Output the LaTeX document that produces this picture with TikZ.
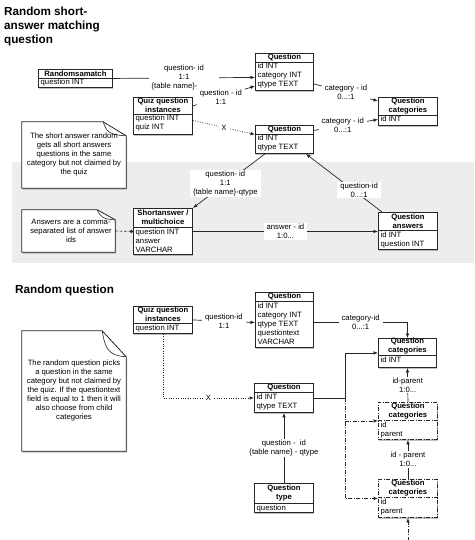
\documentclass[tikz,border=0pt]{standalone}
\usepackage{fontspec}
\setmainfont{Liberation Sans}
\usetikzlibrary{arrows.meta,calc,shadows}
\pgfdeclarelayer{bandlayer}
\pgfdeclarelayer{notelayer}
\pgfsetlayers{bandlayer,notelayer,main}
\newcommand\diagfont{\fontsize{7.7}{9}\selectfont}
\newcommand\ttlfont{\fontsize{11.7}{14}\selectfont\bfseries}
\tikzset{
  shad/.style={drop shadow={shadow xshift=1pt, shadow yshift=-1.5pt, opacity=0.35, fill=black!70}},
  ebox/.style={draw=black!85, line width=0.9pt, fill=white, inner sep=0pt, shad},
  sepline/.style={draw=black!85, line width=0.7pt},
  ehead/.style={font=\diagfont\bfseries, align=center, inner sep=0pt},
  ebody/.style={font=\diagfont, align=left, inner xsep=2.5pt, inner ysep=0.5pt, anchor=north west},
  conn/.style={draw=black!85, line width=0.7pt},
  arr/.style={conn, -{Latex[length=4.5pt,width=3.6pt]}},
  lbl/.style={fill=white, font=\diagfont, align=center, inner xsep=3pt, inner ysep=1pt},
  xlbl/.style={fill=white, font=\diagfont, inner xsep=2pt, inner ysep=0.5pt},
  dotl/.style={dash pattern=on 0.8pt off 1.6pt},
  ddash/.style={dash pattern=on 4pt off 1.5pt on 1pt off 1.5pt},
  notebox/.style={draw=black!85, line width=0.8pt, fill=white, shad},
  notefold/.style={draw=black!85, line width=0.6pt},
  notetxt/.style={font=\diagfont, align=center, inner sep=0pt},
  ttl/.style={font=\ttlfont, align=left, anchor=north west, inner sep=0pt}
}
\newcommand\entity[9]{%
  \node[ebox,#7,minimum width=#4,minimum height=#5+#6,anchor=north west] (#1) at (#2,#3) {};
  \draw[sepline,#7] ($(#1.north west)+(0,#5)$) -- ($(#1.north east)+(0,#5)$);
  \node[ehead] (#1-h) at ($(#1.north)+(0,#5/2)$) {#8};
  \node[ebody] (#1-b) at ($(#1.north west)+(0,#5)$) {\strut #9};
}
\newcommand\noteshape[3]{%
  \draw[notebox] (#1.north west) -- ($(#1.north east)+(-#2,0)$) -- ($(#1.north east)+(0,#3)$) -- (#1.south east) -- (#1.south west) -- cycle;
  \draw[notefold] ($(#1.north east)+(-#2,0)$) .. controls ($(#1.north east)+(-#2+3,#3*0.7)$) and ($(#1.north east)+(-#2+6,#3*0.95)$) .. ($(#1.north east)+(0,#3)$);
}
\begin{document}
\begin{tikzpicture}[x=1pt,y=-1pt]
\useasboundingbox (0,0) rectangle (474,540);
\begin{pgfonlayer}{bandlayer}
  \fill[black!7] (12,162) rectangle (474,263);
\end{pgfonlayer}

% titles
\node[ttl] (t1) at (4,6.5) {Random short-\\answer matching\\question};
\node[ttl] (t2) at (15,284.5) {Random question};

% ---------- top section entities
\entity{rsm}{38}{69}{74}{9}{9}{}{Randomsamatch}{question INT}
\entity{qqi1}{133}{97}{59}{17}{20}{}{Quiz question\\instances}{question INT\\quiz INT}
\entity{q1}{255}{53}{58}{9}{28}{}{Question}{id INT\\category INT\\qtype TEXT}
\entity{qc1}{378}{97}{59}{18}{10}{}{Question\\categories}{id INT}
\entity{q2}{255}{125}{58}{9}{19}{}{Question}{id INT\\qtype TEXT}
\entity{sa}{133}{208}{59}{19}{27}{}{Shortanswer /\\multichoice}{question INT\\answer\\VARCHAR}
\entity{qa}{378}{212}{59}{18}{19}{}{Question\\answers}{id INT\\question INT}

% notes (top)
\node[notetxt, minimum width=104, minimum height=66] (n1) at (74,155)
  {The short answer random\\gets all short answers\\questions in the same\\category but not claimed by\\the quiz};
\node[notetxt, minimum width=93, minimum height=42, text depth=0pt] (n2) at (68.5,231)
  {\hspace*{5pt}Answers are a comma-\\\hspace*{5pt}separated list of answer\\\hspace*{5pt}ids};

% ---------- bottom section entities
\entity{qqi2}{133}{306}{59}{17}{10}{}{Quiz question\\instances}{question INT}
\entity{q3}{255}{292}{58}{9}{46}{}{Question}{id INT\\category INT\\qtype TEXT\\questiontext\\VARCHAR}
\entity{qc2}{378}{338}{58}{17}{12}{}{Question\\categories}{id INT}
\entity{q4}{254}{383}{59}{9}{20}{}{Question}{id INT\\qtype TEXT}
\entity{qc3}{378}{402}{59}{18}{19}{ddash}{Question\\categories}{id\\parent}
\entity{qc4}{378}{479}{59}{18}{20}{ddash}{Question\\categories}{id\\parent}
\entity{qt}{254}{483}{59}{20}{9}{}{Question\\type}{question}

\node[notetxt, minimum width=104, minimum height=120] (n3) at (74,391)
  {The  random question picks\\a question in the same\\category but not claimed by\\the quiz. If the questiontext\\field is equal to 1 then it will\\also choose from child\\categories};

\begin{pgfonlayer}{notelayer}
  \noteshape{n1}{23}{14}
  \noteshape{n2}{18}{10}
  \noteshape{n3}{24}{26}
\end{pgfonlayer}

% ---------- top connectors
\draw[arr] (rsm.east) -- node[lbl] (l1) {question- id\\1:1\\\{table name\}-\phantom{qtype}} ($(q1.west)+(0,5.5)$);
\draw[arr] ($(qqi1.east)+(0,-10)$) -- node[lbl,pos=0.45] (l2) {question - id\\1:1} ($(q1.west)+(0,14)$);
\draw[arr] ($(q1.east)+(0,12)$) -- node[lbl] (l3) {category - id\\0...:1} ($(qc1.north west)+(0,4)$);
\draw[arr] ($(q2.east)+(0,-9)$) -- node[lbl,pos=0.45] (l4) {category - id\\0...:1} ($(qc1.west)+(0,8)$);
\draw[arr,dotl] ($(qqi1.east)+(0,4.5)$) -- node[xlbl] (l5) {X} ($(q2.west)+(0,-5)$);
\draw[arr] ($(q2.south west)+(10,0)$) -- node[lbl,pos=0.55] (l6) {question- id\\1:1\\\{table name\}-qtype} (sa.north east);
\draw[arr] ($(qa.north west)+(4,0)$) -- node[lbl,pos=0.38,xshift=6pt] (l7) {question-id\\0...:1} ($(q2.south east)+(-8,0)$);
\draw[arr] (sa.east) -- node[lbl] (l8) {answer - id\\1:0...} (sa.east -| qa.west);
\draw[conn, dash pattern=on 2.5pt off 2pt, -{Circle[length=3.2pt]}] (n2.east) -- (sa.west);

% ---------- bottom connectors
\draw[arr] (qqi2.east) -- node[lbl] (l10) {question-id\\1:1} ($(q3.west)+(0,2.5)$);
\draw[arr] ($(q3.east)+(0,2.5)$) -| node[lbl,pos=0.25] (l11) {category-id\\0...:1} (qc2.north);
\draw[arr,dotl] (qqi2.south) |- node[xlbl,pos=0.75] (l12) {X} (q4.west);
\coordinate (jn) at ($(q4.east)+(31,0)$);
\coordinate (jlow) at (jn |- qc4.west);
\coordinate (jmid) at (jn |- qc3.west);
\draw[arr] (q4.east) -- (jn) |- (qc2.west);
\draw[arr,ddash] (jn) -- (jlow) -- (qc4.west);
\draw[arr,ddash] (jmid) -- (qc3.west);
\draw[arr] (qc3.north) -- node[lbl] (l15) {id-parent\\1:0...} (qc2.south);
\draw[arr] (qc4.north) -- node[lbl] (l16) {id - parent\\1:0...} (qc3.south);
\coordinate (tail) at ($(qc4.south)+(0,23)$);
\draw[arr,ddash] (tail) -- (qc4.south);
\draw[arr] (qt.north) -- node[lbl] (l18) {question - \ id\\\{table name\} - qtype} (q4.south);
\end{tikzpicture}
\end{document}
